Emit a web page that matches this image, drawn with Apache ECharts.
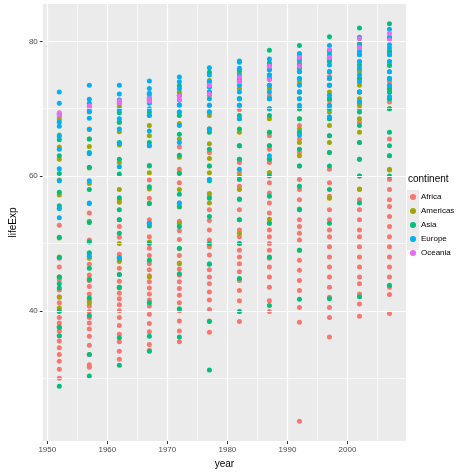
<!DOCTYPE html><html><head><meta charset="utf-8"><script src="https://cdn.jsdelivr.net/npm/echarts@6/dist/echarts.min.js"></script></head><body style="margin:0"><div id="c" style="width:474px;height:474px"></div><script>
const years=[1952,1957,1962,1967,1972,1977,1982,1987,1992,1997,2002,2007];
const continents=['Africa','Americas','Asia','Europe','Oceania'];
const colors=['#F8766D','#A3A500','#00BF7D','#00B0F6','#E76BF3'];
const xTicks=[1950,1960,1970,1980,1990,2000];
const yTicks=[40,60,80];
const africa=[
[30.0,31.3,32.5,33.5,34.5,35.5,36.3,37.0,37.5,38.2,39.0,40.0,41.2,42.1,43.1,44.6,45.0,46.5,47.8,52.7],
[31.6,32.0,33.5,34.9,36.2,37.3,38.2,39.0,39.9,40.7,41.5,42.5,43.6,44.5,45.3,46.9,48.5,50.5,54.5],
[32.8,34.0,35.4,36.5,37.8,39.0,40.0,40.9,41.8,42.6,43.5,44.4,45.4,46.3,47.5,48.4,50.9,52.5,56.5],
[34.1,35.0,36.9,38.1,39.5,40.7,41.6,42.5,43.4,44.3,45.2,46.1,47.0,48.2,49.3,51.0,53.5,56.7,59.4,61.6],
[35.4,37.0,38.5,40.0,41.2,42.3,43.3,44.3,45.3,46.2,47.1,48.2,49.2,50.6,51.9,53.3,56.0,59.0,61.0,64.3],
[36.8,38.5,40.2,41.6,42.8,44.0,45.0,46.1,47.0,48.3,49.5,50.5,52.0,53.4,55.0,57.0,59.5,61.5,63.5,67.0],
[38.4,39.9,41.5,43.0,44.5,45.8,47.0,48.0,49.0,50.0,51.0,52.0,53.5,55.0,56.5,58.5,60.5,62.0,64.5,69.9],
[39.9,41.5,43.5,45.0,46.5,47.8,49.0,50.0,51.0,52.0,53.0,54.5,56.0,57.5,59.0,60.5,62.0,64.0,66.0,71.9],
[23.6,38.3,40.5,43.0,44.5,46.0,47.5,49.0,50.5,51.5,52.5,53.5,55.0,56.5,58.0,59.5,61.5,63.5,65.5,67.5,73.6],
[36.1,39.0,40.5,42.0,43.5,45.0,46.5,48.0,49.5,51.0,52.0,53.5,55.0,57.0,59.0,61.0,63.5,66.0,68.5,71.2,74.8],
[39.2,41.0,42.5,44.0,45.0,46.5,48.0,49.5,51.0,52.0,53.5,55.0,56.5,58.0,60.0,62.5,65.0,68.0,70.0,72.5,75.7],
[39.6,42.4,43.5,45.0,46.5,48.0,49.5,51.0,52.5,54.0,55.5,56.5,58.0,59.5,61.0,63.0,65.5,71.0,72.5,74.0,76.4]];
const americas=[
[37.6,40.4,42.0,45.0,48.0,50.8,55.2,57.2,59.4,62.5,64.3,66.1,68.4,68.8],
[41.2,44.7,47.8,50.3,53.3,55.9,58.9,61.2,64.4,65.5,67.0,69.5,70.0],
[43.4,47.3,50.0,53.5,56.1,58.0,62.0,64.6,66.6,68.0,70.3,71.3],
[45.0,50.2,53.0,56.0,58.1,60.5,64.5,66.0,67.5,69.0,71.2,72.1],
[47.0,53.0,55.4,58.0,60.5,62.8,65.5,67.8,69.5,70.5,72.5],
[49.9,56.0,57.4,60.5,62.6,64.8,67.0,69.0,70.5,72.0,73.4,74.2],
[51.5,58.0,60.0,62.5,64.5,66.5,68.5,70.5,71.5,73.0,74.5,75.4],
[53.6,60.5,62.5,64.5,66.5,68.5,70.0,71.5,73.0,74.5,75.8,76.4],
[55.1,63.0,65.0,67.0,68.5,70.0,71.5,72.5,74.0,75.5,76.8,77.9],
[56.7,65.0,67.5,69.5,70.5,71.5,72.5,73.5,74.5,75.5,77.5,78.6],
[58.1,66.5,68.5,70.5,71.5,72.5,73.5,74.5,75.5,77.0,79.0,79.8],
[60.9,70.0,71.5,72.5,73.0,73.5,74.5,75.5,77.0,78.0,78.5,80.7]];
const asia=[
[28.8,36.3,37.5,39.9,43.4,44.0,45.0,47.9,50.9,55.6,57.6,60.4,63.0,65.4],
[30.3,33.5,39.3,41.9,44.6,46.3,48.6,50.2,53.1,58.0,61.3,63.5,65.5],
[31.9,36.0,43.5,45.4,47.8,51.5,53.5,55.0,56.8,60.3,62.5,65.0,68.0,69.4],
[34.0,36.2,41.2,47.5,50.0,52.6,55.9,58.4,61.5,65.0,69.5,71.4],
[36.1,40.3,45.5,49.3,52.5,55.5,57.3,60.4,63.1,66.2,69.0,72.0,73.4],
[31.2,38.4,46.9,50.0,54.0,56.7,59.3,61.5,64.0,66.5,69.5,72.5,74.0,75.4],
[39.9,44.8,50.0,53.5,56.6,59.5,62.5,64.5,67.0,69.0,71.5,74.0,75.7,77.1],
[40.8,48.0,53.0,57.0,60.0,62.5,64.5,66.5,69.0,71.5,73.5,75.0,76.8,78.7],
[41.7,49.0,55.0,58.5,61.5,64.0,66.5,68.5,70.0,72.5,74.5,76.0,77.5,79.4],
[41.8,53.0,58.0,61.5,63.5,66.0,68.5,70.0,71.5,73.5,75.5,77.0,78.5,80.7],
[42.1,56.0,60.0,62.5,65.0,67.5,69.5,71.0,72.5,74.5,76.5,78.0,79.5,82.0],
[43.8,60.0,63.0,64.5,66.5,70.0,71.5,72.5,73.0,74.5,76.5,78.5,80.5,82.6]];
const europe=[
[53.8,55.2,59.3,61.1,64.0,65.9,67.4,68.0,69.2,70.8,72.5],
[48.1,56.0,59.3,63.3,66.9,68.6,69.6,70.8,71.4,73.5],
[47.9,61.4,64.8,67.0,68.5,69.8,70.8,71.3,72.2,73.5],
[53.0,64.5,66.7,69.0,70.0,70.8,71.6,72.3,73.0,74.1],
[56.0,65.0,67.5,69.5,70.6,71.3,72.0,73.0,74.0,74.7],
[59.5,67.0,69.5,70.5,71.5,72.5,73.2,74.0,75.0,76.1],
[61.0,68.5,70.5,71.5,72.5,73.5,74.2,75.0,76.0,76.9],
[63.0,70.0,71.5,72.5,73.5,74.5,75.0,75.8,76.5,77.4],
[66.1,70.5,71.5,72.5,73.5,74.5,75.5,76.5,77.2,78.2],
[68.8,70.5,72.0,73.5,74.5,75.5,76.5,77.5,78.0,79.4],
[71.0,72.5,74.0,75.0,76.0,77.0,78.0,78.5,79.5,80.6],
[71.8,73.5,74.5,75.5,77.0,78.0,79.0,79.5,80.5,81.8]];
const oceania=[[69.1,69.4],[70.3,70.4],[70.9,71.2],[71.1,71.5],[71.3,71.9],[73.5,72.2],[74.7,74.0],[76.3,74.3],[77.6,76.3],[78.8,77.6],[80.4,79.1],[81.2,80.2]];
const all=[africa,americas,asia,europe,oceania];
const series=continents.map((name,i)=>({name,type:'scatter',symbolSize:5,itemStyle:{color:colors[i],opacity:1},
 data:all[i].flatMap((arr,k)=>arr.map(v=>[years[k],v]))}));
const ln=(w)=>({color:'#fff',width:w,type:'solid'});
series.unshift({type:'scatter',data:[],silent:true,markLine:{silent:true,symbol:'none',label:{show:false},animation:false,
 data:[...[1955,1965,1975,1985,1995,2005].map(x=>({xAxis:x,lineStyle:ln(0.6)})),
 ...[30,50,70].map(y=>({yAxis:y,lineStyle:ln(0.6)})),
 ...xTicks.map(x=>({xAxis:x,lineStyle:ln(1.2)})),
 ...yTicks.map(y=>({yAxis:y,lineStyle:ln(1.2)}))]}});
const keyBoxes=continents.map((c,i)=>({type:'rect',z:-1,shape:{x:407,y:190+12*i,width:12,height:12},style:{fill:'#EBEBEB'}}));
const ch=echarts.init(document.getElementById('c'));
ch.setOption({animation:false,
 grid:{left:26,right:68,top:4,bottom:26,show:true,backgroundColor:'#EBEBEB',borderWidth:0},
 xAxis:{type:'value',min:1949.25,max:2009.75,splitLine:{show:false},axisLine:{show:false},
  axisTick:{show:true,customValues:xTicks,length:3,lineStyle:{color:'#333'}},
  axisLabel:{customValues:xTicks,formatter:v=>String(v),color:'#4d4d4d',fontSize:8,margin:5,fontFamily:'Liberation Sans'},
  name:'year',nameLocation:'middle',nameGap:15,nameTextStyle:{color:'#000',fontSize:10,fontFamily:'Liberation Sans'}},
 yAxis:{type:'value',min:20.65,max:85.55,splitLine:{show:false},axisLine:{show:false},
  axisTick:{show:true,customValues:yTicks,length:3,lineStyle:{color:'#333'}},
  axisLabel:{customValues:yTicks,formatter:v=>String(v),color:'#4d4d4d',fontSize:8,margin:5,fontFamily:'Liberation Sans'},
  name:'lifeExp',nameLocation:'middle',nameGap:14,nameTextStyle:{color:'#000',fontSize:10,fontFamily:'Liberation Sans'}},
 legend:{data:continents,orient:'vertical',left:410,top:193,padding:0,icon:'circle',itemWidth:6,itemHeight:6,itemGap:6,
  textStyle:{fontSize:8,color:'#000',fontFamily:'Liberation Sans'}},
 graphic:[{type:'text',left:408,top:174,style:{text:'continent',fontSize:10,fill:'#000',fontFamily:'Liberation Sans'}},...keyBoxes],
 series});
</script></body></html>
